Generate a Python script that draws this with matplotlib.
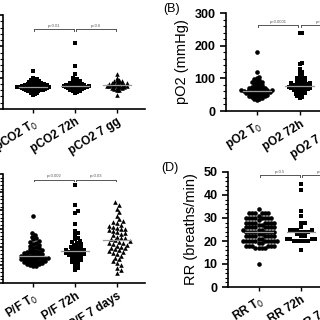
import numpy as np
import matplotlib
matplotlib.use("Agg")
import matplotlib.pyplot as plt
from matplotlib.ticker import MultipleLocator, AutoMinorLocator

plt.rcParams['font.family'] = ['Liberation Sans', 'DejaVu Sans']

# ---------------- data ----------------
pco2_labels = ["pCO2 T$_0$", "pCO2 72h", "pCO2 7 gg"]
pco2_t0 = [61, 50, 48, 47, 46, 45, 44, 43, 43, 42, 42, 41, 41, 40, 40, 40, 39, 39, 39,
           38, 38, 38, 37, 37, 37, 37, 36, 36, 36, 36, 35, 35, 35, 35, 35, 34, 34, 34,
           34, 33, 33, 33, 33, 32, 32, 32, 31, 31, 31, 30, 30, 30, 29, 29, 28, 28, 27,
           26, 25, 24, 23]
pco2_72h = [106, 68, 56, 50, 48, 47, 45, 44, 43, 42, 42, 41, 40, 40, 39, 39, 38, 38, 38,
            37, 37, 37, 36, 36, 36, 35, 35, 35, 34, 34, 34, 33, 33, 32, 32, 31, 30, 30,
            29, 28, 27, 26]
pco2_7d = [56, 50, 47, 46, 45, 44, 43, 42, 42, 41, 41, 40, 40, 39, 39, 38, 38, 37, 37,
           37, 36, 36, 35, 35, 34, 34, 33, 32, 31, 30, 23]
pco2_p = ["p=0.01", "p=0.6"]

po2_labels = ["pO2 T$_0$", "pO2 72h", "pO2 7 days"]
po2_t0 = [180, 120, 105, 100, 97, 95, 92, 90, 88, 86, 85, 83, 80, 78, 77, 75, 74, 72, 71,
          70, 69, 68, 67, 66, 65, 65, 64, 63, 62, 62, 61, 60, 60, 59, 58, 58, 57, 56, 55,
          55, 54, 53, 52, 51, 50, 49, 48, 47, 46, 45, 44, 43, 42, 40, 38, 36, 34]
po2_72h = [240, 240, 148, 145, 130, 120, 115, 110, 105, 102, 100, 98, 96, 94, 92, 90, 88,
           87, 86, 85, 84, 83, 82, 81, 80, 79, 78, 77, 76, 75, 75, 74, 73, 72, 71, 70, 69,
           68, 67, 66, 65, 64, 62, 60, 58, 56, 54, 52, 50, 48, 45, 42, 40]
po2_7d = [140, 120, 110, 100, 95, 90, 88, 85, 82, 80, 78, 76, 75, 72, 70, 68, 65, 62, 60]
po2_p = ["p=0.0001", "p=0.3"]

pf_labels = ["P/F T$_0$", "P/F 72h", "P/F 7 days"]
pf_t0 = [367, 275, 265, 255, 250, 240, 230, 225, 220, 215, 210, 205, 200, 195, 190, 185,
         180, 178, 175, 172, 170, 168, 165, 162, 160, 158, 155, 153, 150, 148, 146, 144,
         142, 140, 139, 138, 136, 135, 133, 131, 130, 128, 126, 124, 122, 120, 118, 116,
         114, 112, 110, 108, 105, 102, 100, 96, 92]
pf_72h = [540, 432, 394, 383, 324, 286, 275, 262, 248, 240, 232, 225, 220, 215, 210, 205,
          200, 196, 192, 188, 185, 182, 180, 178, 175, 172, 170, 168, 165, 162, 160, 158,
          155, 152, 150, 146, 142, 138, 134, 130, 125, 120, 115, 110, 100, 90, 80, 70]
pf_7d = [448, 430, 410, 390, 370, 350, 340, 335, 330, 320, 315, 310, 305, 300, 295, 290,
         285, 280, 275, 270, 262, 255, 250, 245, 240, 235, 230, 225, 221, 218, 215, 210,
         205, 200, 195, 190, 185, 180, 175, 170, 165, 160, 150, 140, 130, 120, 110, 100,
         85, 70, 54]
pf_p = ["p=0.002", "p=0.03"]

rr_labels = ["RR T$_0$", "RR 72h", "RR 7 days"]
rr_t0 = [34, 32, 32, 32, 32, 32, 32, 31, 30, 30, 30, 30, 30, 30, 30, 30, 29, 28, 28, 28,
         28, 28, 28, 28, 28, 27, 27, 26, 26, 26, 26, 26, 26, 26, 26, 25, 25, 25, 24, 24,
         24, 24, 24, 24, 24, 24, 23, 23, 22, 22, 22, 22, 22, 22, 22, 22, 21, 21, 20, 20,
         20, 20, 20, 20, 20, 20, 20, 20, 19, 19, 18, 18, 18, 18, 18, 18, 17, 17, 17, 17, 10]
rr_72h = [45, 42, 33, 31, 28, 28, 26, 25, 25, 25, 25, 24, 24, 24, 23, 22, 22, 21, 21, 21,
          21, 20, 20, 20, 20, 20, 16]
rr_7d = [30, 28, 26, 24, 24, 22, 22, 20, 20, 18]
rr_p = ["p=0.5", "p=0.4"]

# ---------------- figure ----------------
fig = plt.figure(figsize=(3.2, 3.2), dpi=100)


def px_axes(l, t, r, b):
    return fig.add_axes([l / 320, 1 - b / 320, (r - l) / 320, (b - t) / 320])


def swarm_x(ax, xc, vals, d):
    tr = ax.transData
    pts = tr.transform(np.column_stack([np.full(len(vals), xc), vals]))
    ypx = pts[:, 1]
    x0 = pts[0, 0]
    placed = []
    offs = np.zeros(len(vals))
    order = np.argsort(ypx)
    step = d * 0.5
    cands = [0.0]
    for k in range(1, 80):
        cands += [k * step, -k * step]
    for i in order:
        y = ypx[i]
        for c in cands:
            ok = True
            for (px, py) in placed:
                if (px - c) ** 2 + (py - y) ** 2 < d * d * 0.92:
                    ok = False
                    break
            if ok:
                offs[i] = c
                placed.append((c, y))
                break
    inv = tr.inverted()
    xs = inv.transform(np.column_stack([x0 + offs, ypx]))[:, 0]
    return xs


def panel(ax, groups, markers, dists, labels, ylim, major, pvals, bracket_y,
          show_ylabels=True):
    ax.set_xlim(-0.72, 2.67)
    ax.set_ylim(*ylim)
    for sp in ['top', 'right']:
        ax.spines[sp].set_visible(False)
    for sp in ['left', 'bottom']:
        ax.spines[sp].set_linewidth(1.2)
    for i, (vals, m, d) in enumerate(zip(groups, markers, dists)):
        xs = swarm_x(ax, i, vals, d)
        ax.plot(xs, vals, linestyle='none', marker=m, color='black',
                markersize=3.3, markeredgewidth=0, clip_on=False)
        med = np.median(vals)
        ax.plot([i - 0.33, i + 0.33], [med, med], color='#9a9a9a', lw=0.9, zorder=5)
    ax.set_xticks(range(3))
    ax.set_xticklabels(labels, rotation=32, ha='right', rotation_mode='anchor',
                       fontsize=8.5, fontweight='bold')
    ax.yaxis.set_major_locator(MultipleLocator(major))
    ax.yaxis.set_minor_locator(AutoMinorLocator(5))
    ax.tick_params(axis='y', which='major', length=4, width=1.2, labelsize=9,
                   labelleft=show_ylabels)
    ax.tick_params(axis='y', which='minor', length=2, width=0.8)
    ax.tick_params(axis='x', length=3, width=1.0, pad=2)
    for t in ax.get_yticklabels():
        t.set_fontweight('bold')
    # significance brackets
    for j, p in enumerate(pvals):
        x1, x2 = j + 0.03, j + 0.97
        h = (ylim[1] - ylim[0]) * 0.012
        ax.plot([x1, x2], [bracket_y, bracket_y], color='#555555', lw=0.7, clip_on=False)
        ax.plot([x1, x1], [bracket_y, bracket_y - h], color='#555555', lw=0.7, clip_on=False)
        ax.plot([x2, x2], [bracket_y, bracket_y - h], color='#555555', lw=0.7, clip_on=False)
        ax.text(j + 0.5, bracket_y + (ylim[1] - ylim[0]) * 0.015, p, fontsize=3,
                ha='center', va='bottom', color='#555555')


axA = px_axes(3, 15, 145, 109)
panel(axA, [pco2_t0, pco2_72h, pco2_7d], ['s', 's', '^'], [2.1, 2.3, 2.5], pco2_labels,
      (0, 150), 50, pco2_p, 127, show_ylabels=False)

axB = px_axes(226, 13, 371, 111)
panel(axB, [po2_t0, po2_72h, po2_7d], ['o', 's', '^'], [2.6, 2.7, 3.0], po2_labels,
      (0, 300), 100, po2_p, 262)
axB.set_ylabel("pO2 (mmHg)", fontsize=10.5, labelpad=4)

axC = px_axes(3, 174, 145, 283)
panel(axC, [pf_t0, pf_72h, pf_7d], ['o', 's', '^'], [3.0, 3.0, 4.2], pf_labels,
      (0, 600), 100, pf_p, 568, show_ylabels=False)

axD = px_axes(228, 172, 372, 287)
panel(axD, [rr_t0, rr_72h, rr_7d], ['o', 's', '^'], [3.1, 3.6, 3.6], rr_labels,
      (0, 50), 10, rr_p, 48.5)
axD.set_ylabel("RR (breaths/min)", fontsize=10.5, labelpad=4)

fig.text(163 / 320, 1 - 9 / 320, "(B)", fontsize=9, va='center', ha='left')
fig.text(161 / 320, 1 - 168 / 320, "(D)", fontsize=9, va='center', ha='left')

fig.savefig("out.png", dpi=100)
